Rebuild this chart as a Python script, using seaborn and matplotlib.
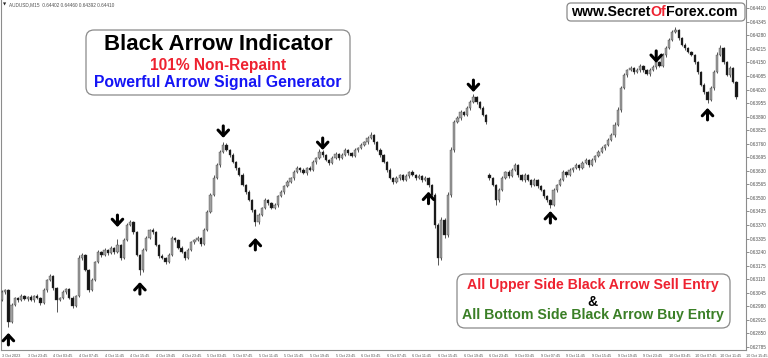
import numpy as np
import pandas as pd
import matplotlib
matplotlib.use("Agg")
import matplotlib.pyplot as plt
import seaborn as sns
from matplotlib.patches import FancyBboxPatch
from matplotlib.transforms import IdentityTransform

# ---------------- data (AUDUSD, 30-minute candles) ----------------
close = [
    0.63048, 0.63058, 0.62904, 0.62986, 0.63020, 0.63010, 0.63029, 0.63015, 0.63024, 0.63010,
    0.63029, 0.63020, 0.62996, 0.63058, 0.63106, 0.63125, 0.63068, 0.63010, 0.63020, 0.63048,
    0.63063, 0.63020, 0.62981, 0.63029, 0.63212, 0.63226, 0.63154, 0.63058, 0.63106, 0.63192,
    0.63240, 0.63226, 0.63250, 0.63236, 0.63260, 0.63240, 0.63274, 0.63212, 0.63298, 0.63370,
    0.63384, 0.63336, 0.63226, 0.63154, 0.63250, 0.63308, 0.63346, 0.63336, 0.63274, 0.63221,
    0.63212, 0.63192, 0.63226, 0.63308, 0.63298, 0.63260, 0.63240, 0.63212, 0.63250, 0.63288,
    0.63298, 0.63308, 0.63279, 0.63346, 0.63432, 0.63514, 0.63596, 0.63658, 0.63720, 0.63754,
    0.63730, 0.63706, 0.63672, 0.63644, 0.63610, 0.63562, 0.63528, 0.63490, 0.63442, 0.63384,
    0.63418, 0.63452, 0.63490, 0.63476, 0.63452, 0.63466, 0.63509, 0.63528, 0.63557, 0.63576,
    0.63596, 0.63624, 0.63644, 0.63634, 0.63620, 0.63644, 0.63634, 0.63672, 0.63692, 0.63720,
    0.63706, 0.63682, 0.63668, 0.63692, 0.63711, 0.63692, 0.63706, 0.63730, 0.63716, 0.63701,
    0.63730, 0.63740, 0.63754, 0.63768, 0.63788, 0.63802, 0.63768, 0.63730, 0.63706, 0.63672,
    0.63634, 0.63596, 0.63576, 0.63596, 0.63610, 0.63586, 0.63605, 0.63624, 0.63610, 0.63596,
    0.63605, 0.63586, 0.63596, 0.63562, 0.63514, 0.63370, 0.63212, 0.63394, 0.63322, 0.63514,
    0.63730, 0.63864, 0.63884, 0.63912, 0.63898, 0.63932, 0.63960, 0.63984, 0.63960, 0.63932,
    0.63898, 0.63864, 0.63596, 0.63562, 0.63490, 0.63538, 0.63596, 0.63624, 0.63605, 0.63634,
    0.63658, 0.63610, 0.63586, 0.63610, 0.63586, 0.63562, 0.63586, 0.63557, 0.63538, 0.63509,
    0.63490, 0.63466, 0.63538, 0.63562, 0.63586, 0.63624, 0.63610, 0.63634, 0.63644, 0.63658,
    0.63644, 0.63668, 0.63682, 0.63658, 0.63682, 0.63701, 0.63720, 0.63740, 0.63754, 0.63778,
    0.63802, 0.63850, 0.63922, 0.64028, 0.64090, 0.64114, 0.64124, 0.64104, 0.64114, 0.64133,
    0.64114, 0.64095, 0.64114, 0.64128, 0.64152, 0.64133, 0.64186, 0.64220, 0.64258, 0.64296,
    0.64306, 0.64268, 0.64234, 0.64220, 0.64200, 0.64186, 0.64152, 0.64104, 0.64042, 0.64008,
    0.63970, 0.64028, 0.64104, 0.64186, 0.64220, 0.64152, 0.64090, 0.64124, 0.64056, 0.63984,
]
upper_wick_pips = [
    2, 1, 1, 2, 1, 1, 2, 1, 1, 2,
    1, 2, 1, 2, 1, 2, 1, 1, 1, 2,
    1, 1, 2, 1, 3, 2, 1, 1, 2, 1,
    2, 1, 2, 1, 2, 1, 6, 1, 2, 2,
    2, 1, 1, 1, 2, 2, 1, 2, 1, 1,
    2, 1, 2, 2, 1, 1, 2, 1, 2, 1,
    1, 2, 1, 2, 2, 2, 3, 2, 2, 3,
    2, 1, 2, 1, 1, 2, 1, 2, 1, 1,
    2, 1, 2, 1, 1, 2, 1, 2, 1, 2,
    1, 2, 2, 1, 2, 1, 2, 2, 1, 3,
    2, 1, 1, 2, 2, 1, 2, 2, 1, 1,
    2, 1, 2, 1, 2, 3, 1, 1, 2, 1,
    1, 2, 1, 2, 1, 1, 2, 1, 2, 1,
    2, 1, 2, 1, 1, 2, 2, 3, 2, 3,
    3, 2, 2, 2, 1, 2, 2, 3, 1, 1,
    2, 1, 2, 1, 1, 2, 2, 1, 2, 2,
    2, 1, 1, 2, 1, 1, 2, 1, 1, 1,
    1, 1, 2, 1, 2, 2, 1, 2, 1, 2,
    1, 2, 2, 1, 2, 1, 2, 2, 1, 2,
    2, 3, 3, 2, 2, 1, 2, 1, 2, 2,
    1, 1, 2, 2, 3, 1, 2, 2, 2, 2,
    3, 1, 1, 2, 1, 1, 1, 1, 1, 2,
    1, 2, 2, 3, 3, 1, 1, 2, 1, 1,
]
lower_wick_pips = [
    1, 2, 5, 1, 1, 2, 1, 1, 2, 1,
    2, 1, 2, 1, 2, 1, 2, 12, 1, 1,
    2, 1, 2, 1, 1, 2, 1, 2, 1, 1,
    1, 2, 1, 2, 1, 2, 1, 2, 1, 1,
    1, 2, 1, 5, 2, 1, 1, 2, 1, 2,
    1, 2, 1, 1, 2, 1, 1, 2, 1, 1,
    2, 1, 2, 1, 1, 1, 1, 1, 2, 1,
    1, 2, 1, 2, 1, 1, 2, 1, 2, 4,
    2, 1, 1, 2, 1, 1, 2, 1, 2, 1,
    1, 2, 1, 2, 1, 2, 1, 1, 2, 1,
    2, 1, 2, 1, 1, 2, 1, 1, 2, 1,
    1, 2, 1, 1, 2, 1, 2, 1, 2, 1,
    2, 1, 2, 1, 2, 1, 1, 2, 1, 2,
    1, 2, 1, 2, 2, 3, 7, 2, 3, 2,
    2, 2, 1, 2, 1, 1, 2, 1, 2, 1,
    1, 2, 2, 1, 5, 2, 1, 1, 2, 1,
    1, 2, 1, 2, 1, 2, 1, 2, 1, 2,
    2, 3, 1, 2, 1, 1, 2, 1, 2, 1,
    2, 1, 1, 2, 1, 2, 1, 1, 2, 1,
    1, 2, 1, 2, 1, 2, 1, 2, 1, 2,
    2, 1, 2, 1, 2, 1, 1, 2, 1, 1,
    1, 2, 1, 2, 1, 1, 2, 2, 1, 2,
    3, 1, 2, 1, 1, 2, 1, 2, 1, 2,
]
first_open = 0.63010
monday_index = 152
monday_open = 0.63610

# signal arrows: bar index and price at the arrow tip
sell_index = [36, 69, 100, 147, 204]
sell_price = [0.63360, 0.63788, 0.63730, 0.64008, 0.64148]
buy_index = [2, 43, 79, 133, 171, 220]
buy_price = [0.62852, 0.63096, 0.63308, 0.63530, 0.63437, 0.63932]

time_labels = ["3 Oct 2023", "3 Oct 23:45", "4 Oct 03:45", "4 Oct 07:45", "4 Oct 11:45",
               "4 Oct 15:45", "4 Oct 19:45", "4 Oct 23:45", "5 Oct 03:45", "5 Oct 07:45",
               "5 Oct 11:45", "5 Oct 15:45", "5 Oct 19:45", "5 Oct 23:45", "6 Oct 03:45",
               "6 Oct 07:45", "6 Oct 11:45", "6 Oct 15:45", "6 Oct 19:45", "6 Oct 23:45",
               "9 Oct 03:45", "9 Oct 07:45", "9 Oct 11:45", "9 Oct 15:45", "9 Oct 19:45",
               "9 Oct 23:45", "10 Oct 03:45", "10 Oct 07:45", "10 Oct 11:45", "10 Oct 15:45"]
bars_per_label = 8
price_ticks = [0.62785, 0.62850, 0.62915, 0.62980, 0.63045, 0.63110, 0.63175, 0.63240,
               0.63305, 0.63370, 0.63435, 0.63500, 0.63565, 0.63630, 0.63695, 0.63760,
               0.63825, 0.63890, 0.63955, 0.64020, 0.64085, 0.64150, 0.64215, 0.64280,
               0.64345, 0.64410]
header = "AUDUSD,M15  0.64402 0.64460 0.64392 0.64410"

# ---------------- build table ----------------
n = len(close)
opens = [first_open] + close[:-1]
opens[monday_index] = monday_open
df = pd.DataFrame({"i": np.arange(n), "open": opens, "close": close})
pip = 0.0001
df["high"] = df[["open", "close"]].max(axis=1) + np.array(upper_wick_pips) * pip * 0.5
df["low"] = df[["open", "close"]].min(axis=1) - np.array(lower_wick_pips) * pip * 0.5
df["bull"] = df["close"] >= df["open"]

# ---------------- figure ----------------
sns.set_theme(style="white")
plt.rcParams["font.family"] = ["Liberation Sans", "DejaVu Sans"]
W, H = 768, 358
fig = plt.figure(figsize=(W / 100, H / 100), dpi=100)
fig.patch.set_facecolor("white")

px_per_bar = 3.207
x0_px = 2.0
left_px, right_px = 1.0, 746.0
top_px, bottom_px = 0.0, 350.0
ax = fig.add_axes([left_px / W, 1 - bottom_px / H, (right_px - left_px) / W, (bottom_px - top_px) / H])
ax.set_facecolor("white")
ax.set_xlim((left_px - x0_px) / px_per_bar, (right_px - x0_px) / px_per_bar)
ax.set_ylim(0.64450 - 0.000048 * bottom_px, 0.64450)

# wicks
ax.vlines(df["i"], df["low"], df["high"], color="#3a3a3a", lw=0.6, zorder=2)
# bodies
body_h = (df["close"] - df["open"]).abs().clip(lower=0.000025)
body_b = df[["open", "close"]].min(axis=1)
colors = np.where(df["bull"], "#a0a0a0", "#161616")
ax.bar(df["i"], body_h, bottom=body_b, width=0.72, color=colors, edgecolor="#303030",
       linewidth=0.25, zorder=3)

# signal arrows (thick black, like the indicator's glyphs)
arrow_kw = dict(arrowstyle="->,head_length=0.45,head_width=0.42", lw=2.2, color="black",
                mutation_scale=9, shrinkA=0, shrinkB=0)
for xi, yv in zip(sell_index, sell_price):
    ax.annotate("", xy=(xi, yv), xycoords="data", xytext=(0, 12), textcoords="offset pixels",
                arrowprops=arrow_kw, zorder=5)
for xi, yv in zip(buy_index, buy_price):
    ax.annotate("", xy=(xi, yv), xycoords="data", xytext=(0, -12), textcoords="offset pixels",
                arrowprops=arrow_kw, zorder=5)

# axes styling
ax.spines["top"].set_visible(False)
for s in ["left", "right", "bottom"]:
    ax.spines[s].set_color("#8c8c8c")
    ax.spines[s].set_linewidth(0.8)
ax.grid(False)

ax.set_xticks([k * bars_per_label for k in range(len(time_labels))])
ax.set_xticklabels(time_labels, ha="left", fontsize=2.7, color="#505050")
ax.tick_params(axis="x", direction="out", length=1.8, width=0.5, pad=0.8, colors="#606060",
               labelcolor="#505050")
ax.yaxis.tick_right()
ax.set_yticks(price_ticks)
ax.set_yticklabels([f"{v:.5f}" for v in price_ticks], fontsize=3.3, color="#505050")
ax.tick_params(axis="y", direction="out", length=1.8, width=0.5, pad=1.0, colors="#606060",
               labelcolor="#505050")

# header
fig.text(3 / W, 1 - 5 / H, "\u25bc", fontsize=3, color="#222222", va="center", ha="left",
         family="DejaVu Sans")
fig.text(9 / W, 1 - 5 / H, header, fontsize=3.4, color="#505050", va="center", ha="left")


def rbox(x0, y0, x1, y1, r=7):
    p = FancyBboxPatch((x0, H - y1), x1 - x0, y1 - y0,
                       boxstyle=f"round,pad=0,rounding_size={r}",
                       transform=IdentityTransform(), facecolor="white",
                       edgecolor="#8a8a8a", linewidth=0.9, zorder=4)
    fig.add_artist(p)


# title box
rbox(86, 30, 350, 95, r=8)
cx = 218 / W
fig.text(cx, 1 - 45 / H, "Black Arrow Indicator", fontsize=16, fontweight="bold",
         color="black", ha="center", va="center", zorder=6)
fig.text(cx, 1 - 65.5 / H, "101% Non-Repaint", fontsize=11.2, fontweight="bold",
         color="#ee2230", ha="center", va="center", zorder=6)
fig.text(cx, 1 - 82 / H, "Powerful Arrow Signal Generator", fontsize=11.3, fontweight="bold",
         color="#1515f5", ha="center", va="center", zorder=6)

# entry box
rbox(457, 274, 730, 328, r=8)
cx2 = 593 / W
fig.text(cx2, 1 - 285 / H, "All Upper Side Black Arrow Sell Entry", fontsize=10.2,
         fontweight="bold", color="#ee2230", ha="center", va="center", zorder=6)
fig.text(cx2, 1 - 301.5 / H, "&", fontsize=10.2, fontweight="bold", color="black",
         ha="center", va="center", zorder=6)
fig.text(cx2, 1 - 315.5 / H, "All Bottom Side Black Arrow Buy Entry", fontsize=10.2,
         fontweight="bold", color="#3a7f26", ha="center", va="center", zorder=6)

# website box
rbox(567, 3, 745, 21, r=4)
renderer = fig.canvas.get_renderer()
xp = 571.0
for part, col in [("www.Secret", "black"), ("Of", "#ee2230"), ("Forex.com", "black")]:
    t = fig.text(xp / W, 1 - 12.5 / H, part, fontsize=10.2, fontweight="bold", color=col,
                 ha="left", va="center", zorder=6)
    xp += t.get_window_extent(renderer).width

fig.savefig("out.png", dpi=100, facecolor="white")
